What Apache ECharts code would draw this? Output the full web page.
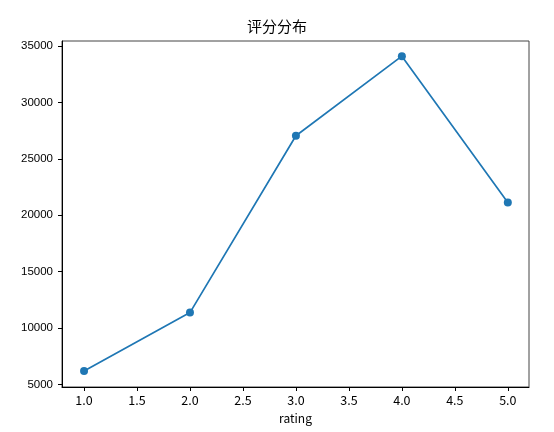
<!DOCTYPE html>
<html>
<head>
<meta charset="utf-8">
<script src="https://cdn.jsdelivr.net/npm/echarts@6/dist/echarts.min.js"></script>
<style>
  html, body { margin: 0; padding: 0; background: #fff; }
  #chart { width: 554px; height: 432px; }
</style>
</head>
<body>
<div id="chart"></div>
<script>
const ratings = [1, 2, 3, 4, 5];
const counts = [6200, 11380, 27050, 34100, 21130];
const xTicks = [1, 1.5, 2, 2.5, 3, 3.5, 4, 4.5, 5];
const yTicks = [5000, 10000, 15000, 20000, 25000, 30000, 35000];

const chart = echarts.init(document.getElementById("chart"));

chart.setOption({
  animation: false,
  title: {
    text: "评分分布",
    left: "center",
    top: 14,
    textStyle: { fontFamily: "Noto Sans CJK SC", fontSize: 15, fontWeight: "normal", color: "#000" },
  },
  grid: {
    left: 62, right: 25, top: 41, bottom: 45,
    show: true, borderColor: "#444", borderWidth: 1,
  },
  xAxis: {
    type: "value",
    min: 0.792,
    max: 5.2,
    name: "rating",
    nameLocation: "middle",
    nameGap: 25,
    nameTextStyle: { fontFamily: "Noto Sans CJK SC", fontSize: 12, color: "#000" },
    axisLine: { lineStyle: { color: "#000", width: 1 } },
    axisTick: { length: 4, customValues: xTicks, lineStyle: { color: "#000" } },
    axisLabel: {
      customValues: xTicks,
      formatter: (v) => v.toFixed(1),
      fontFamily: "Noto Sans CJK SC",
      fontSize: 12.5,
      color: "#000",
      margin: 7,
    },
    splitLine: { show: false },
  },
  yAxis: {
    type: "value",
    min: 4787,
    max: 35443,
    axisLine: { show: true, lineStyle: { color: "#000", width: 1 } },
    axisTick: { show: true, length: 4, customValues: yTicks, lineStyle: { color: "#000" } },
    axisLabel: {
      customValues: yTicks,
      formatter: (v) => String(v),
      fontFamily: "Liberation Sans",
      fontSize: 11.5,
      color: "#000",
      margin: 9,
    },
    splitLine: { show: false },
  },
  series: [
    {
      type: "line",
      data: ratings.map((r, i) => [r, counts[i]]),
      symbol: "circle",
      symbolSize: 8,
      lineStyle: { color: "#1f77b4", width: 1.7 },
      itemStyle: { color: "#1f77b4" },
    },
  ],
});
</script>
</body>
</html>
